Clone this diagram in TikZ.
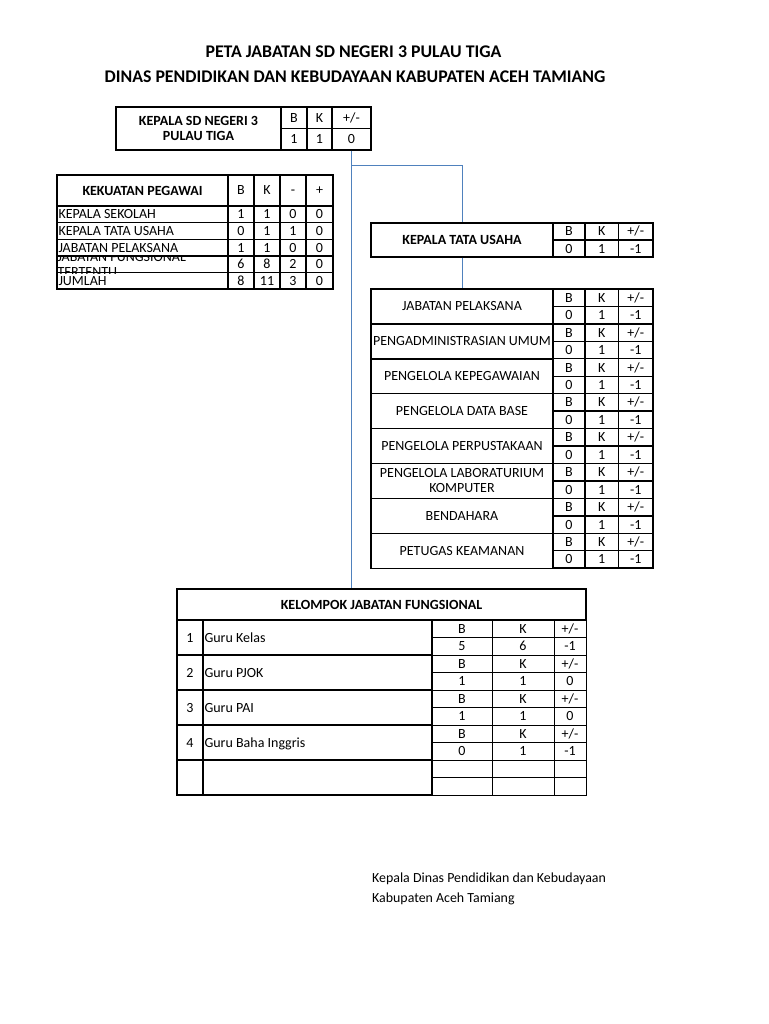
\documentclass[tikz,border=0pt]{standalone}
\usepackage{fontspec}
\setmainfont{Carlito}
\usetikzlibrary{positioning}

\definecolor{linkblue}{RGB}{79,129,189}
\newcommand{\cellfont}{\fontsize{14}{15}\selectfont}

\begin{document}
\begin{tikzpicture}[
  x=1pt, y=-1pt,
  box/.style={draw, line width=1.4pt, inner sep=0pt, align=center, font=\cellfont},
  cell/.style={box, text height=9pt, text depth=0pt},
  headbox/.style={box, font=\cellfont\bfseries},
  rowbox/.style={cell, inner xsep=1.5pt, align=flush left},
  subbox/.style={cell, line width=1pt},
  link/.style={draw=linkblue, line width=0.9pt},
  title/.style={font=\fontsize{17.8}{20}\selectfont\bfseries},
]
\useasboundingbox (0,0) rectangle (768,1024);

\node[title] (judul1) at (353.5,52) {PETA JABATAN SD NEGERI 3 PULAU TIGA};
\node[title] (judul2) at (355,77) {DINAS PENDIDIKAN DAN KEBUDAYAAN KABUPATEN ACEH TAMIANG};

% kepala sekolah
\node[headbox, minimum width=165, minimum height=43] (ks) at (198.5,128.5) {KEPALA SD NEGERI 3\\PULAU TIGA};
\node[cell, minimum width=26, minimum height=21.5] (ksB) at (294,117.75) {B};
\node[cell, minimum width=25, minimum height=21.5] (ksK) at (319.5,117.75) {K};
\node[cell, minimum width=39, minimum height=21.5] (ksD) at (351.5,117.75) {+/-};
\node[cell, minimum width=26, minimum height=21.5] (ksb) at (294,139.25) {1};
\node[cell, minimum width=25, minimum height=21.5] (ksk) at (319.5,139.25) {1};
\node[cell, minimum width=39, minimum height=21.5] (ks0) at (351.5,139.25) {0};

% kekuatan pegawai
\node[headbox, minimum width=171, minimum height=31] (kp) at (142.5,190.5) {KEKUATAN PEGAWAI};
\node[cell, minimum width=26, minimum height=31] (kpB) at (241,190.5) {B};
\node[cell, minimum width=26, minimum height=31] (kpK) at (267,190.5) {K};
\node[cell, minimum width=26, minimum height=31] (kpM) at (293,190.5) {-};
\node[cell, minimum width=27, minimum height=31] (kpP) at (319.5,190.5) {+};
\foreach \nama/\vb/\vk/\vm/\vp [count=\i] in {KEPALA SEKOLAH/1/1/0/0, KEPALA TATA USAHA/0/1/1/0,
    JABATAN PELAKSANA/1/1/0/0, {}/6/8/2/0, JUMLAH/8/11/3/0} {
  \node[rowbox, minimum width=171, text width=168, minimum height=16.6] (kpn\i) at (142.5,{197.7+16.6*\i}) {\nama};
  \node[cell, minimum width=26, minimum height=16.6] (kpb\i) at (241,{197.7+16.6*\i}) {\vb};
  \node[cell, minimum width=26, minimum height=16.6] (kpk\i) at (267,{197.7+16.6*\i}) {\vk};
  \node[cell, minimum width=26, minimum height=16.6] (kpm\i) at (293,{197.7+16.6*\i}) {\vm};
  \node[cell, minimum width=27, minimum height=16.6] (kpp\i) at (319.5,{197.7+16.6*\i}) {\vp};
}
\path[path picture={
  \node[anchor=west, align=flush left, inner sep=1pt, font=\fontsize{14}{15}\selectfont] (jft) at (kpn4.west) {JABATAN FUNGSIONAL\\TERTENTU};
}] (kpn4.north west) rectangle (kpn4.south east);

% kepala tata usaha
\node[headbox, minimum width=182, minimum height=34] (ktu) at (462,240) {KEPALA TATA USAHA};
\node[cell, minimum width=32, minimum height=17] (ktuB) at (569,231.5) {B};
\node[cell, minimum width=33.5, minimum height=17] (ktuK) at (601.75,231.5) {K};
\node[cell, minimum width=34.5, minimum height=17] (ktuD) at (635.75,231.5) {+/-};
\node[cell, minimum width=32, minimum height=17] (ktub) at (569,248.5) {0};
\node[cell, minimum width=33.5, minimum height=17] (ktuk) at (601.75,248.5) {1};
\node[cell, minimum width=34.5, minimum height=17] (ktud) at (635.75,248.5) {-1};

% jabatan pelaksana
\foreach \nama [count=\i from 0] in {JABATAN PELAKSANA, PENGADMINISTRASIAN UMUM, PENGELOLA KEPEGAWAIAN,
    PENGELOLA DATA BASE, PENGELOLA PERPUSTAKAAN, {PENGELOLA LABORATURIUM\\KOMPUTER}, BENDAHARA, PETUGAS KEAMANAN} {
  \node[box, minimum width=182, minimum height=34.9] (jab\i) at (462,{306.45+34.9*\i}) {\nama};
  \node[cell, minimum width=32, minimum height=17.45] (jabB\i) at (569,{297.7+34.9*\i}) {B};
  \node[cell, minimum width=33.5, minimum height=17.45] (jabK\i) at (601.75,{297.7+34.9*\i}) {K};
  \node[cell, minimum width=34.5, minimum height=17.45] (jabD\i) at (635.75,{297.7+34.9*\i}) {+/-};
  \node[cell, minimum width=32, minimum height=17.45] (jabb\i) at (569,{315.15+34.9*\i}) {0};
  \node[cell, minimum width=33.5, minimum height=17.45] (jabk\i) at (601.75,{315.15+34.9*\i}) {1};
  \node[cell, minimum width=34.5, minimum height=17.45] (jabd\i) at (635.75,{315.15+34.9*\i}) {-1};
}

% kelompok jabatan fungsional
\node[headbox, minimum width=409, minimum height=31] (kjf) at (381.5,604.5) {KELOMPOK JABATAN FUNGSIONAL};
\foreach \no/\nama/\vb/\vk/\vs [count=\i from 0] in {1/Guru Kelas/5/6/-1, 2/Guru PJOK/1/1/0,
    3/Guru PAI/1/1/0, 4/Guru Baha Inggris/0/1/-1} {
  \node[cell, minimum width=26, minimum height=35] (kno\i) at (190,{637.5+35*\i}) {\no};
  \node[rowbox, minimum width=229, text width=226, minimum height=35] (knm\i) at (317.5,{637.5+35*\i}) {\nama};
  \node[subbox, minimum width=60, minimum height=17.5] (kB\i) at (462,{628.75+35*\i}) {B};
  \node[subbox, minimum width=62, minimum height=17.5] (kK\i) at (523,{628.75+35*\i}) {K};
  \node[subbox, minimum width=32, minimum height=17.5] (kD\i) at (570,{628.75+35*\i}) {+/-};
  \node[subbox, minimum width=60, minimum height=17.5] (kb\i) at (462,{646.25+35*\i}) {\vb};
  \node[subbox, minimum width=62, minimum height=17.5] (kk\i) at (523,{646.25+35*\i}) {\vk};
  \node[subbox, minimum width=32, minimum height=17.5] (kd\i) at (570,{646.25+35*\i}) {\vs};
}
\node[box, minimum width=26, minimum height=35] (kno4) at (190,777.5) {};
\node[box, minimum width=229, minimum height=35] (knm4) at (317.5,777.5) {};
\node[subbox, minimum width=60, minimum height=17.5] (kB4) at (462,768.75) {};
\node[subbox, minimum width=62, minimum height=17.5] (kK4) at (523,768.75) {};
\node[subbox, minimum width=32, minimum height=17.5] (kD4) at (570,768.75) {};
\node[subbox, minimum width=60, minimum height=17.5] (kb4) at (462,786.25) {};
\node[subbox, minimum width=62, minimum height=17.5] (kk4) at (523,786.25) {};
\node[subbox, minimum width=32, minimum height=17.5] (kd4) at (570,786.25) {};
\draw[line width=1.6pt] (kjf.north west) rectangle (kd4.south east);

% garis
\draw[link] (ks0.south) -- (ks0.south |- kjf.north);
\draw[link] (ks0.south) ++(0,15) -| (ktu.north);
\draw[link] (ktu.south) -- (jab0.north);

\node[anchor=north west, align=flush left, inner sep=0pt, font=\fontsize{13.9}{20}\selectfont] (ttd) at (372,873)
  {Kepala Dinas Pendidikan dan Kebudayaan\\Kabupaten Aceh Tamiang};

\end{tikzpicture}
\end{document}
